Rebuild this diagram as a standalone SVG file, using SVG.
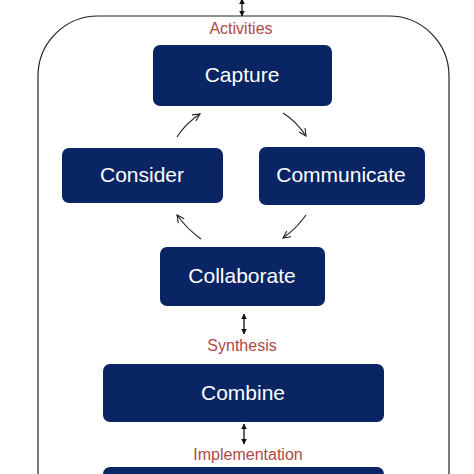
<svg xmlns="http://www.w3.org/2000/svg" width="474" height="474" viewBox="0 0 474 474">
<defs>
<style>
.box{fill:#0a2563;}
.lbl{font-family:"Liberation Sans",Arial,sans-serif;font-size:21px;fill:#ffffff;text-anchor:middle;}
.sec{font-family:"Liberation Sans",Arial,sans-serif;font-size:16px;fill:#b04848;text-anchor:middle;}
.cyc{fill:none;stroke:#222;stroke-width:1.1;marker-end:url(#open);}
.dbl{fill:none;stroke:#111;stroke-width:1.3;marker-start:url(#solidS);marker-end:url(#solidE);}
</style>
<marker id="open" viewBox="0 0 10 10" refX="9" refY="5" markerWidth="9" markerHeight="9" markerUnits="userSpaceOnUse" orient="auto">
<path d="M1,1 L9,5 L1,9" fill="none" stroke="#222" stroke-width="1.2"/>
</marker>
<marker id="solidE" viewBox="0 0 10 10" refX="9" refY="5" markerWidth="6" markerHeight="6" markerUnits="userSpaceOnUse" orient="auto">
<path d="M0,0 L10,5 L0,10 Z" fill="#111"/>
</marker>
<marker id="solidS" viewBox="0 0 10 10" refX="1" refY="5" markerWidth="6" markerHeight="6" markerUnits="userSpaceOnUse" orient="auto">
<path d="M10,0 L0,5 L10,10 Z" fill="#111"/>
</marker>
</defs>
<rect width="474" height="474" fill="#ffffff"/>
<g id="container">
<rect x="38" y="16" width="411" height="600" rx="60" ry="60" fill="none" stroke="#222" stroke-width="1.2"/>
</g>
<g id="connectors">
<line class="dbl" x1="242" y1="-1" x2="242" y2="16"/>
<path class="cyc" d="M177,137 Q186,123 200,114"/>
<path class="cyc" d="M283,113 Q296,121 306,136"/>
<path class="cyc" d="M306,215 Q297,228 283,238"/>
<path class="cyc" d="M201,239 Q187,229 177,215"/>
<line class="dbl" x1="244" y1="314" x2="244" y2="334"/>
<line class="dbl" x1="244" y1="424" x2="244" y2="444"/>
</g>
<g id="labels">
<text class="sec" x="241" y="34">Activities</text>
<text class="sec" x="242" y="351">Synthesis</text>
<text class="sec" x="248" y="460">Implementation</text>
</g>
<g id="capture">
<rect class="box" x="153" y="45" width="179" height="61" rx="7"/>
<text class="lbl" x="242" y="82">Capture</text>
</g>
<g id="consider">
<rect class="box" x="62" y="148" width="161" height="55" rx="7"/>
<text class="lbl" x="142" y="182">Consider</text>
</g>
<g id="communicate">
<rect class="box" x="259" y="147" width="166" height="58" rx="7"/>
<text class="lbl" x="341" y="182">Communicate</text>
</g>
<g id="collaborate">
<rect class="box" x="160" y="247" width="165" height="59" rx="7"/>
<text class="lbl" x="242" y="283">Collaborate</text>
</g>
<g id="combine">
<rect class="box" x="103" y="364" width="281" height="58" rx="7"/>
<text class="lbl" x="243" y="400">Combine</text>
</g>
<g id="bottom">
<rect class="box" x="103" y="467" width="281" height="40" rx="7"/>
</g>
</svg>
